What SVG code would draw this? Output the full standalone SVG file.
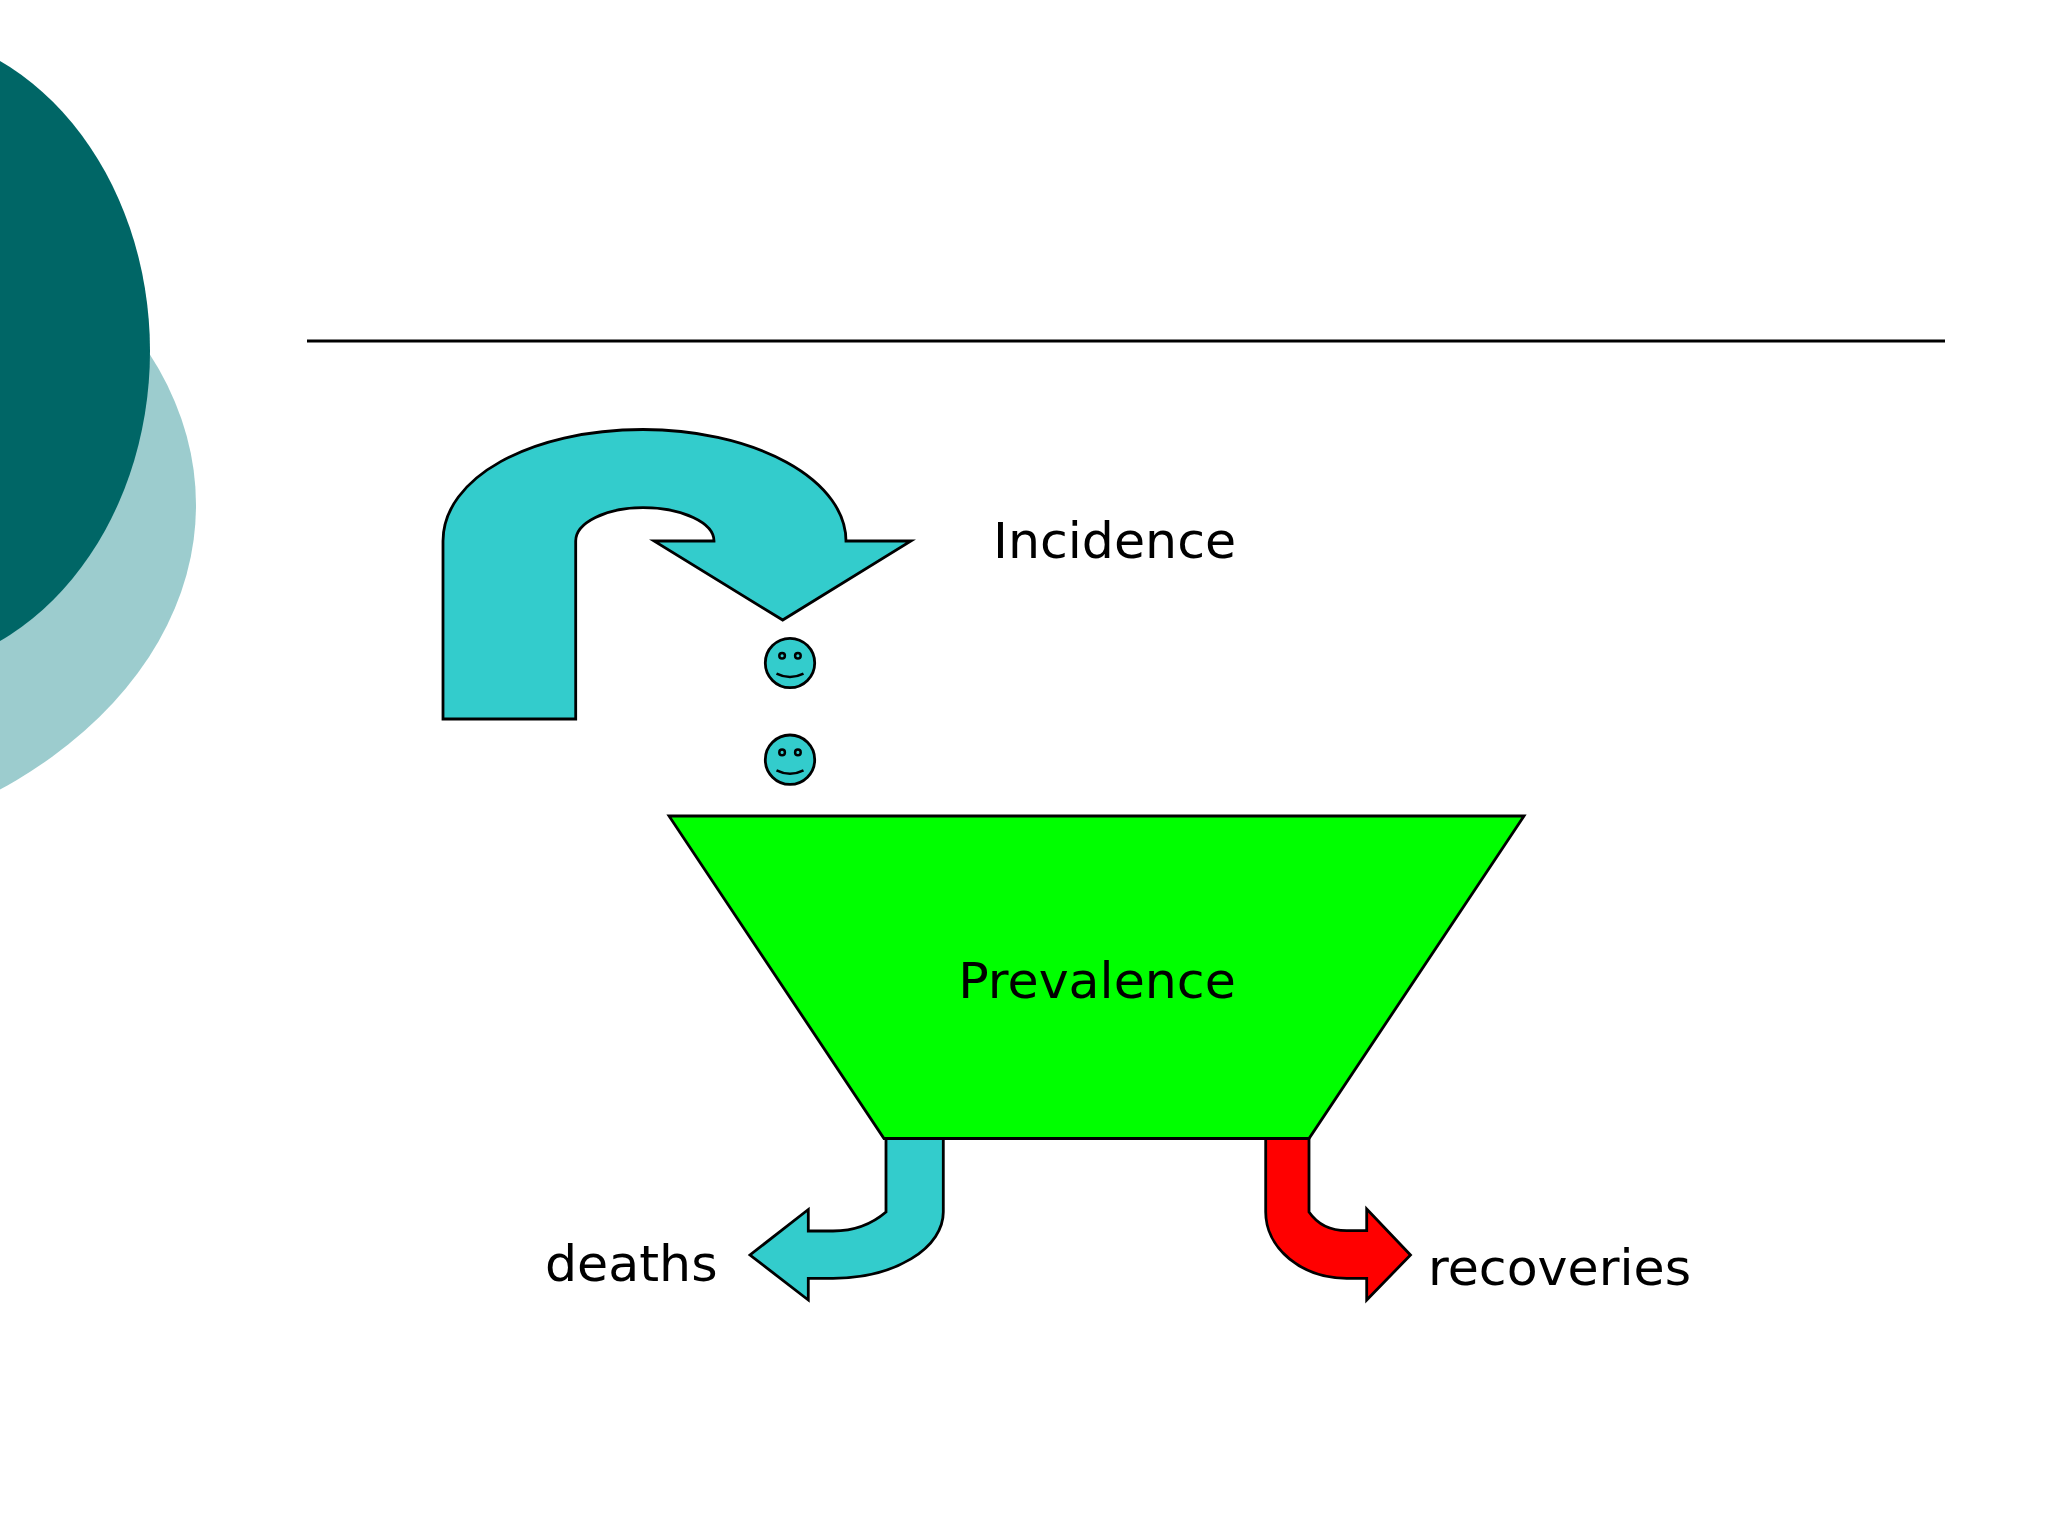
<svg xmlns="http://www.w3.org/2000/svg" width="2048" height="1536" viewBox="0 0 2048 1536">
<style>
.s{stroke:#000;stroke-width:2.8;stroke-linejoin:miter}
.c{fill:#33cccc}
.t{font-family:"DejaVu Sans",Verdana,sans-serif;font-size:50.600px;fill:#000}
.f{fill:none;stroke:#000;stroke-width:2.5}
</style>
<defs>
<g id="smile">
<circle r="24.7" class="s c"/>
<circle cx="-7.900" cy="-7.300" r="2.800" class="f"/>
<circle cx="7.900" cy="-7.300" r="2.800" class="f"/>
<path d="M-13.500 10.700Q0 17.500 13.500 10.700" class="f"/>
</g>
</defs>
<rect width="2048" height="1536" fill="#fff"/>
<g id="background">
<ellipse cx="-295" cy="505" rx="491" ry="356" fill="#9cccce"/>
<ellipse cx="-115" cy="351" rx="265" ry="322" fill="#006666"/>
<line x1="307" y1="341" x2="1945" y2="341" stroke="#000" stroke-width="3"/>
</g>
<g id="connectors">
<path id="incidence-arrow" class="s c" d="M443 719V541C443 478 530 429.500 643 429.500A203 111.500 0 0 1 846 541H911L782.700 620L654 541H714A71 33.300 0 0 0 643 507.700A67.300 33.300 0 0 0 575.700 541V719Z"/>
<path id="deaths-arrow" class="s c" d="M886 1138.500V1212C872 1224 855 1231 833 1231H808.300V1209.500L750 1255L808.300 1300V1278.300H833A110.300 66.300 0 0 0 943.300 1212V1138.500Z"/>
<path id="recoveries-arrow" class="s" fill="#ff0000" d="M1265.700 1138.500V1212A81 66.300 0 0 0 1346.700 1278.300H1366.700V1300L1410.500 1255L1366.700 1209V1230.700H1346.700C1330 1230.700 1318 1225 1309 1212V1138.500Z"/>
</g>
<g id="incidence">
<text class="t" x="993" y="558">Incidence</text>
</g>
<g id="person-1"><use href="#smile" x="790" y="663"/></g>
<g id="person-2"><use href="#smile" x="790" y="759.700"/></g>
<g id="prevalence">
<polygon class="s" fill="#00ff00" points="669,816 1524,816 1309,1138.500 884,1138.500"/>
<text class="t" x="1097" y="998" text-anchor="middle">Prevalence</text>
</g>
<g id="deaths"><text class="t" x="545" y="1281">deaths</text></g>
<g id="recoveries"><text class="t" x="1428" y="1285">recoveries</text></g>
</svg>
